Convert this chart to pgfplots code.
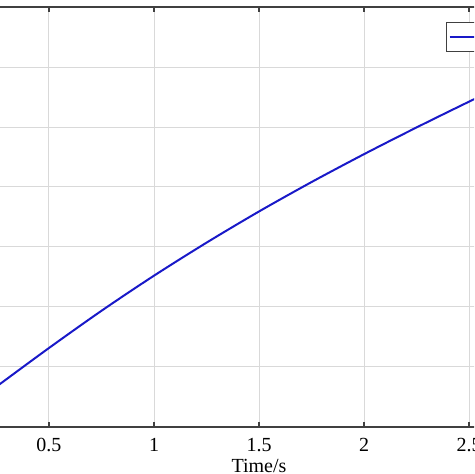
\documentclass[border=0pt]{standalone}
\usepackage{pgfplots}
\pgfplotsset{compat=1.18}
\usepackage{fontspec}
\setmainfont{Liberation Serif}
\begin{document}
\begin{tikzpicture}
\useasboundingbox (0,0) rectangle (237pt,237pt);
\clip (0,0) rectangle (237pt,237pt);
\begin{axis}[
  at={(-28pt,23.5pt)}, anchor=south west,
  scale only axis, width=315pt, height=210pt,
  xmin=0, xmax=3, ymin=0, ymax=7,
  xtick={0,0.5,1,1.5,2,2.5,3},
  xticklabels={0,0.5,1,1.5,2,2.5,3},
  ytick={0,1,2,3,4,5,6,7},
  yticklabels={0,1,2,3,4,5,6,7},
  tick align=inside,
  major tick length=2.5pt,
  grid=major,
  grid style={line width=0.5pt, draw=black!15},
  axis line style={line width=0.6pt, draw=black!75},
  tick style={line width=0.6pt, draw=black!75},
  ticklabel style={font=\fontsize{10}{12}\selectfont},
  xticklabel style={yshift=-2pt},
  xlabel={Time/s},
  xlabel style={font=\fontsize{10}{12}\selectfont, yshift=3pt},
  /pgf/number format/assume math mode=true,
  legend style={at={(0.7968,0.964)}, anchor=north west, draw=black!75, line width=0.6pt,
    inner xsep=1pt, inner ysep=1pt, font=\fontsize{10}{12}\selectfont},
]
\addplot[color={rgb,255:red,25;green,25;blue,200}, line width=1pt, smooth] coordinates {
(0.2,0.543) (0.2667,0.717) (0.5,1.317) (0.75,1.937) (1.0,2.522) (1.25,3.072) (1.5,3.592) (1.75,4.082) (2.0,4.547) (2.25,4.992) (2.5,5.422) (2.75,5.842) (3.0,6.257)
};
\addlegendentry{Actual value}
\end{axis}
\end{tikzpicture}
\end{document}
